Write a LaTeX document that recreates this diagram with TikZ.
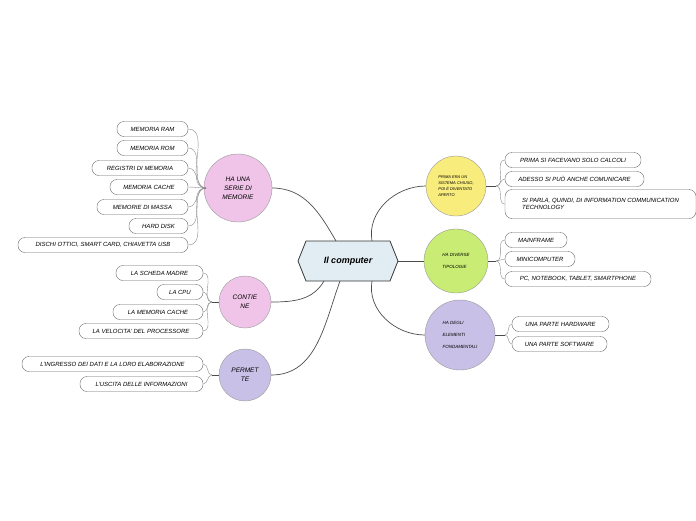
\documentclass[tikz,border=0pt]{standalone}
\usepackage{fontspec}
\setmainfont{Liberation Sans}
\definecolor{pinkc}{HTML}{EFC4E8}
\definecolor{lavc}{HTML}{C8C0E6}
\definecolor{yelc}{HTML}{F8EC7C}
\definecolor{grnc}{HTML}{C8EC74}
\definecolor{hexc}{HTML}{E2EDF3}
\begin{document}
\begin{tikzpicture}[x=1pt,y=-1pt,
 leaf/.style={draw=black!60,rounded corners=7pt,minimum height=15pt,inner sep=1pt,font=\fontsize{6}{7}\selectfont\itshape,line width=0.4pt},
 topic/.style={circle,draw=black!40,font=\fontsize{6.5}{9}\selectfont\itshape,align=center,inner sep=0pt},
 link/.style={draw=black!70,line width=0.7pt},
 twig/.style={draw=black!45,line width=0.4pt}]
\useasboundingbox (0,0) rectangle (696,520);
\draw[draw=black!80,fill=hexc,line width=0.8pt] (298,261)--(306,241)--(390,241)--(398,261)--(390,281)--(306,281)--cycle;
\node[font=\small\itshape\bfseries] (c) at (348,261) {Il computer};
% topics
\node[topic,fill=pinkc,minimum size=68pt] (m) at (238,188) {HA UNA\\SERIE DI\\MEMORIE};
\node[topic,fill=pinkc,minimum size=52pt] (co) at (245,302) {CONTIE\\NE};
\node[topic,fill=lavc,minimum size=52pt] (pe) at (245,375) {PERMET\\TE};
\node[topic,fill=yelc,minimum size=60pt,font=\fontsize{4}{6}\selectfont\itshape,align=left] (pr) at (456,186) {PRIMA ERA UN\\SISTEMA CHIUSO,\\POI È DIVENTATO\\APERTO};
\node[topic,fill=grnc,minimum size=64pt,font=\fontsize{4.5}{12}\selectfont\itshape,align=left] (ti) at (456,261) {HA DIVERSE\\TIPOLOGIE};
\node[topic,fill=lavc,minimum size=70pt,font=\fontsize{4.5}{12}\selectfont\itshape,align=left] (el) at (460,335) {HA DEGLI\\ELEMENTI\\FONDAMENTALI};
\draw[link] (336,241) to[out=120,in=0] (m.east);
\draw[link] (324,281) to[out=240,in=0] (co.east);
\draw[link] (340,281) to[out=250,in=0] (pe.east);
\draw[link] (372,241) to[out=100,in=180] (pr.west);
\draw[link] (398,261) -- (ti.west);
\draw[link] (372,281) to[out=260,in=180] (el.west);
% memorie leaves
\coordinate (jm) at (206,188);
\draw[link] (m.west) -- (jm);
\foreach \n/\y/\l/\t in {a/129/117/MEMORIA RAM,b/148/117/MEMORIA ROM,c/168/92/REGISTRI DI MEMORIA,d/187/110/MEMORIA CACHE,e/207/97/MEMORIE DI MASSA,f/226/129/HARD DISK,g/245/18/{DISCHI OTTICI, SMART CARD, CHIAVETTA USB}}{
 \node[leaf,minimum width=188-\l] (m\n) at ({(188+\l)/2},\y) {\t};
 \draw[twig] (jm) to[out=180,in=0] (m\n.east);}
\coordinate (jc) at (212,302);
\draw[link] (co.west) -- (jc);
\foreach \n/\y/\l/\t in {a/273/116/LA SCHEDA MADRE,b/292/157/LA CPU,c/312/113/LA MEMORIA CACHE,d/331/79/LA VELOCITA' DEL PROCESSORE}{
 \node[leaf,minimum width=203-\l] (c\n) at ({(203+\l)/2},\y) {\t};
 \draw[twig] (jc) to[out=180,in=0] (c\n.east);}
\coordinate (jp) at (212,375);
\draw[link] (pe.west) -- (jp);
\foreach \n/\y/\l/\t in {a/364/22/L'INGRESSO DEI DATI E LA LORO ELABORAZIONE,b/384/80/L'USCITA DELLE INFORMAZIONI}{
 \node[leaf,minimum width=203-\l] (p\n) at ({(203+\l)/2},\y) {\t};
 \draw[twig] (jp) to[out=180,in=0] (p\n.east);}
% right leaves
\coordinate (jr) at (496,186);
\draw[link] (pr.east) -- (jr);
\foreach \n/\y/\r/\t in {a/160/641/PRIMA SI FACEVANO SOLO CALCOLI,b/179/644/ADESSO SI PUÒ ANCHE COMUNICARE}{
 \node[leaf,minimum width=\r-505] (r\n) at ({(\r+505)/2},\y) {\t};
 \draw[twig] (jr) to[out=0,in=180] (r\n.west);}
\node[leaf,minimum width=191pt,minimum height=29pt,align=left] (rc) at (600.5,204) {SI PARLA, QUINDI, DI INFORMATION COMMUNICATION\\TECHNOLOGY};
\draw[twig] (jr) to[out=0,in=180] (rc.west);
\coordinate (jt) at (496,261);
\draw[link] (ti.east) -- (jt);
\foreach \n/\y/\r/\t in {a/240/567/MAINFRAME,b/259/575/MINICOMPUTER,c/279/651/{PC, NOTEBOOK, TABLET, SMARTPHONE}}{
 \node[leaf,minimum width=\r-505] (t\n) at ({(\r+505)/2},\y) {\t};
 \draw[twig] (jt) to[out=0,in=180] (t\n.west);}
\coordinate (je) at (505,335);
\draw[link] (el.east) -- (je);
\foreach \n/\y/\r/\t in {a/324/609/UNA PARTE HARDWARE,b/344/607/UNA PARTE SOFTWARE}{
 \node[leaf,minimum width=\r-512] (e\n) at ({(\r+512)/2},\y) {\t};
 \draw[twig] (je) to[out=0,in=180] (e\n.west);}
\end{tikzpicture}
\end{document}
